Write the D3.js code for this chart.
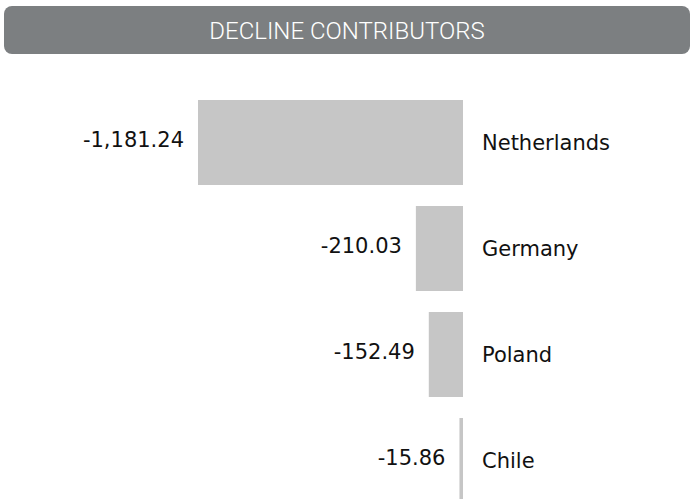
<!DOCTYPE html>
<html>
<head>
<meta charset="utf-8">
<script src="https://cdn.jsdelivr.net/npm/d3@7"></script>
<style>
  html, body { margin: 0; padding: 0; background: #fff; overflow: hidden; }
  svg { display: block; }
</style>
</head>
<body>
<svg id="chart" width="696" height="499"></svg>
<script>
// Countries pulling the total down, with their change values
const countries = ["Netherlands", "Germany", "Poland", "Chile"];
const changes = [-1181.24, -210.03, -152.49, -15.86];
const title = "DECLINE CONTRIBUTORS";

const W = 696, H = 499;
const svg = d3.select("#chart");

// Header banner
svg.append("rect")
  .attr("x", 4).attr("y", 6)
  .attr("width", 686).attr("height", 48)
  .attr("rx", 8).attr("ry", 8)
  .attr("fill", "#7c7f81");

svg.append("text")
  .attr("x", 347).attr("y", 31)
  .attr("text-anchor", "middle")
  .attr("dominant-baseline", "central")
  .attr("fill", "#ffffff")
  .attr("font-family", "Roboto, sans-serif")
  .attr("font-weight", 300)
  .attr("font-size", 24)
  .text(title);

// Bars grow leftward from a shared zero line
const zeroX = 463;
const x = d3.scaleLinear()
  .domain([0, d3.min(changes)])
  .range([zeroX, 198]);

const y = d3.scaleBand()
  .domain(countries)
  .range([100, 503])
  .paddingInner(21 / 106)
  .paddingOuter(0);

const rows = svg.append("g").selectAll("g")
  .data(countries.map((c, i) => ({ country: c, value: changes[i] })))
  .join("g");

rows.append("rect")
  .attr("x", d => x(d.value))
  .attr("y", d => y(d.country))
  .attr("width", d => x(0) - x(d.value))
  .attr("height", y.bandwidth())
  .attr("fill", "#c6c6c6");

// Plain hyphen for negatives
const locale = d3.formatLocale({ decimal: ".", thousands: ",", grouping: [3], currency: ["", ""], minus: "-" });
const fmt = locale.format(",.2f");

rows.append("text")
  .attr("x", d => x(d.value) - 14)
  .attr("y", d => y(d.country) + y.bandwidth() / 2 - 3)
  .attr("text-anchor", "end")
  .attr("dominant-baseline", "central")
  .attr("font-family", "DejaVu Sans, sans-serif")
  .attr("font-size", 21)
  .attr("fill", "#111")
  .text(d => fmt(d.value));

rows.append("text")
  .attr("x", zeroX + 19)
  .attr("y", d => y(d.country) + y.bandwidth() / 2)
  .attr("text-anchor", "start")
  .attr("dominant-baseline", "central")
  .attr("font-family", "DejaVu Sans, sans-serif")
  .attr("font-size", 21)
  .attr("fill", "#111")
  .text(d => d.country);
</script>
</body>
</html>
